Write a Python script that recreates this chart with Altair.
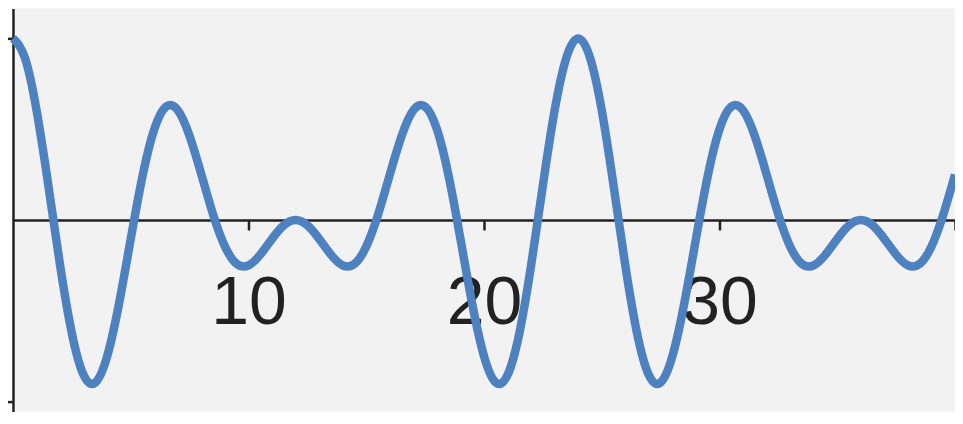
import altair as alt
import pandas as pd

# sample positions along the curve (x) and the values (y)
x_vals = [
    0, 0.5, 1, 1.5, 2, 2.5, 3, 3.5, 4, 4.5, 5, 5.5, 6, 6.5, 7, 7.5,
    8, 8.5, 9, 9.5, 10, 10.5, 11, 11.5, 12, 12.5, 13, 13.5, 14, 14.5, 15, 15.5,
    16, 16.5, 17, 17.5, 18, 18.5, 19, 19.5, 20, 20.5, 21, 21.5, 22, 22.5, 23, 23.5,
    24, 24.5, 25, 25.5, 26, 26.5, 27, 27.5, 28, 28.5, 29, 29.5, 30, 30.5, 31, 31.5,
    32, 32.5, 33, 33.5, 34, 34.5, 35, 35.5, 36, 36.5, 37, 37.5, 38, 38.5, 39, 39.5,
    40,
]
y_vals = [
    1.00, 0.895, 0.604, 0.191, -0.25, -0.624, -0.854, -0.895, -0.75, -0.462, -0.104, 0.242,
    0.50, 0.624, 0.604, 0.462, 0.25, 0.029, -0.146, -0.242, -0.25, -0.191, -0.104, -0.029,
    0.00, -0.029, -0.104, -0.191, -0.25, -0.242, -0.146, 0.029, 0.25, 0.462, 0.604, 0.624,
    0.50, 0.242, -0.104, -0.462, -0.75, -0.895, -0.854, -0.624, -0.25, 0.191, 0.604, 0.895,
    1.00, 0.895, 0.604, 0.191, -0.25, -0.624, -0.854, -0.895, -0.75, -0.462, -0.104, 0.242,
    0.50, 0.624, 0.604, 0.462, 0.25, 0.029, -0.146, -0.242, -0.25, -0.191, -0.104, -0.029,
    0.00, -0.029, -0.104, -0.191, -0.25, -0.242, -0.146, 0.029, 0.25,
]
x_ticks = [10, 20, 30, 40]
y_ticks = [-1, 1]

source = pd.DataFrame({"x": x_vals, "y": y_vals})

ink = "#222222"

chart = (
    alt.Chart(source)
    .mark_line(color="#4e81c0", strokeWidth=8.5, interpolate="natural")
    .encode(
        x=alt.X(
            "x:Q",
            scale=alt.Scale(domain=[0, 40], nice=False, zero=False),
            axis=alt.Axis(
                values=x_ticks,
                labelExpr="datum.value == 40 ? '' : datum.label",
                offset=-192,
                grid=False,
                title=None,
                tickSize=10,
                tickWidth=2.5,
                tickColor=ink,
                domainWidth=2.5,
                domainColor=ink,
                labelColor=ink,
                labelFont="Liberation Sans",
                labelFontSize=68,
                labelPadding=40,
                labelFlush=False,
            ),
        ),
        y=alt.Y(
            "y:Q",
            scale=alt.Scale(domain=[-1.055, 1.165], nice=False, zero=False),
            axis=alt.Axis(
                values=y_ticks,
                labels=False,
                grid=False,
                title=None,
                tickSize=8,
                tickWidth=2.5,
                tickColor=ink,
                domainWidth=2.5,
                domainColor=ink,
            ),
        ),
    )
    .properties(
        width=944,
        height=404,
        autosize=alt.AutoSizeParams(type="none"),
        padding={"left": 5, "top": 0, "right": 0, "bottom": 4},
    )
    .configure_view(fill="#f2f2f2", stroke=None)
)

chart.save("out.html", embed_options={"renderer": "svg", "actions": False})
